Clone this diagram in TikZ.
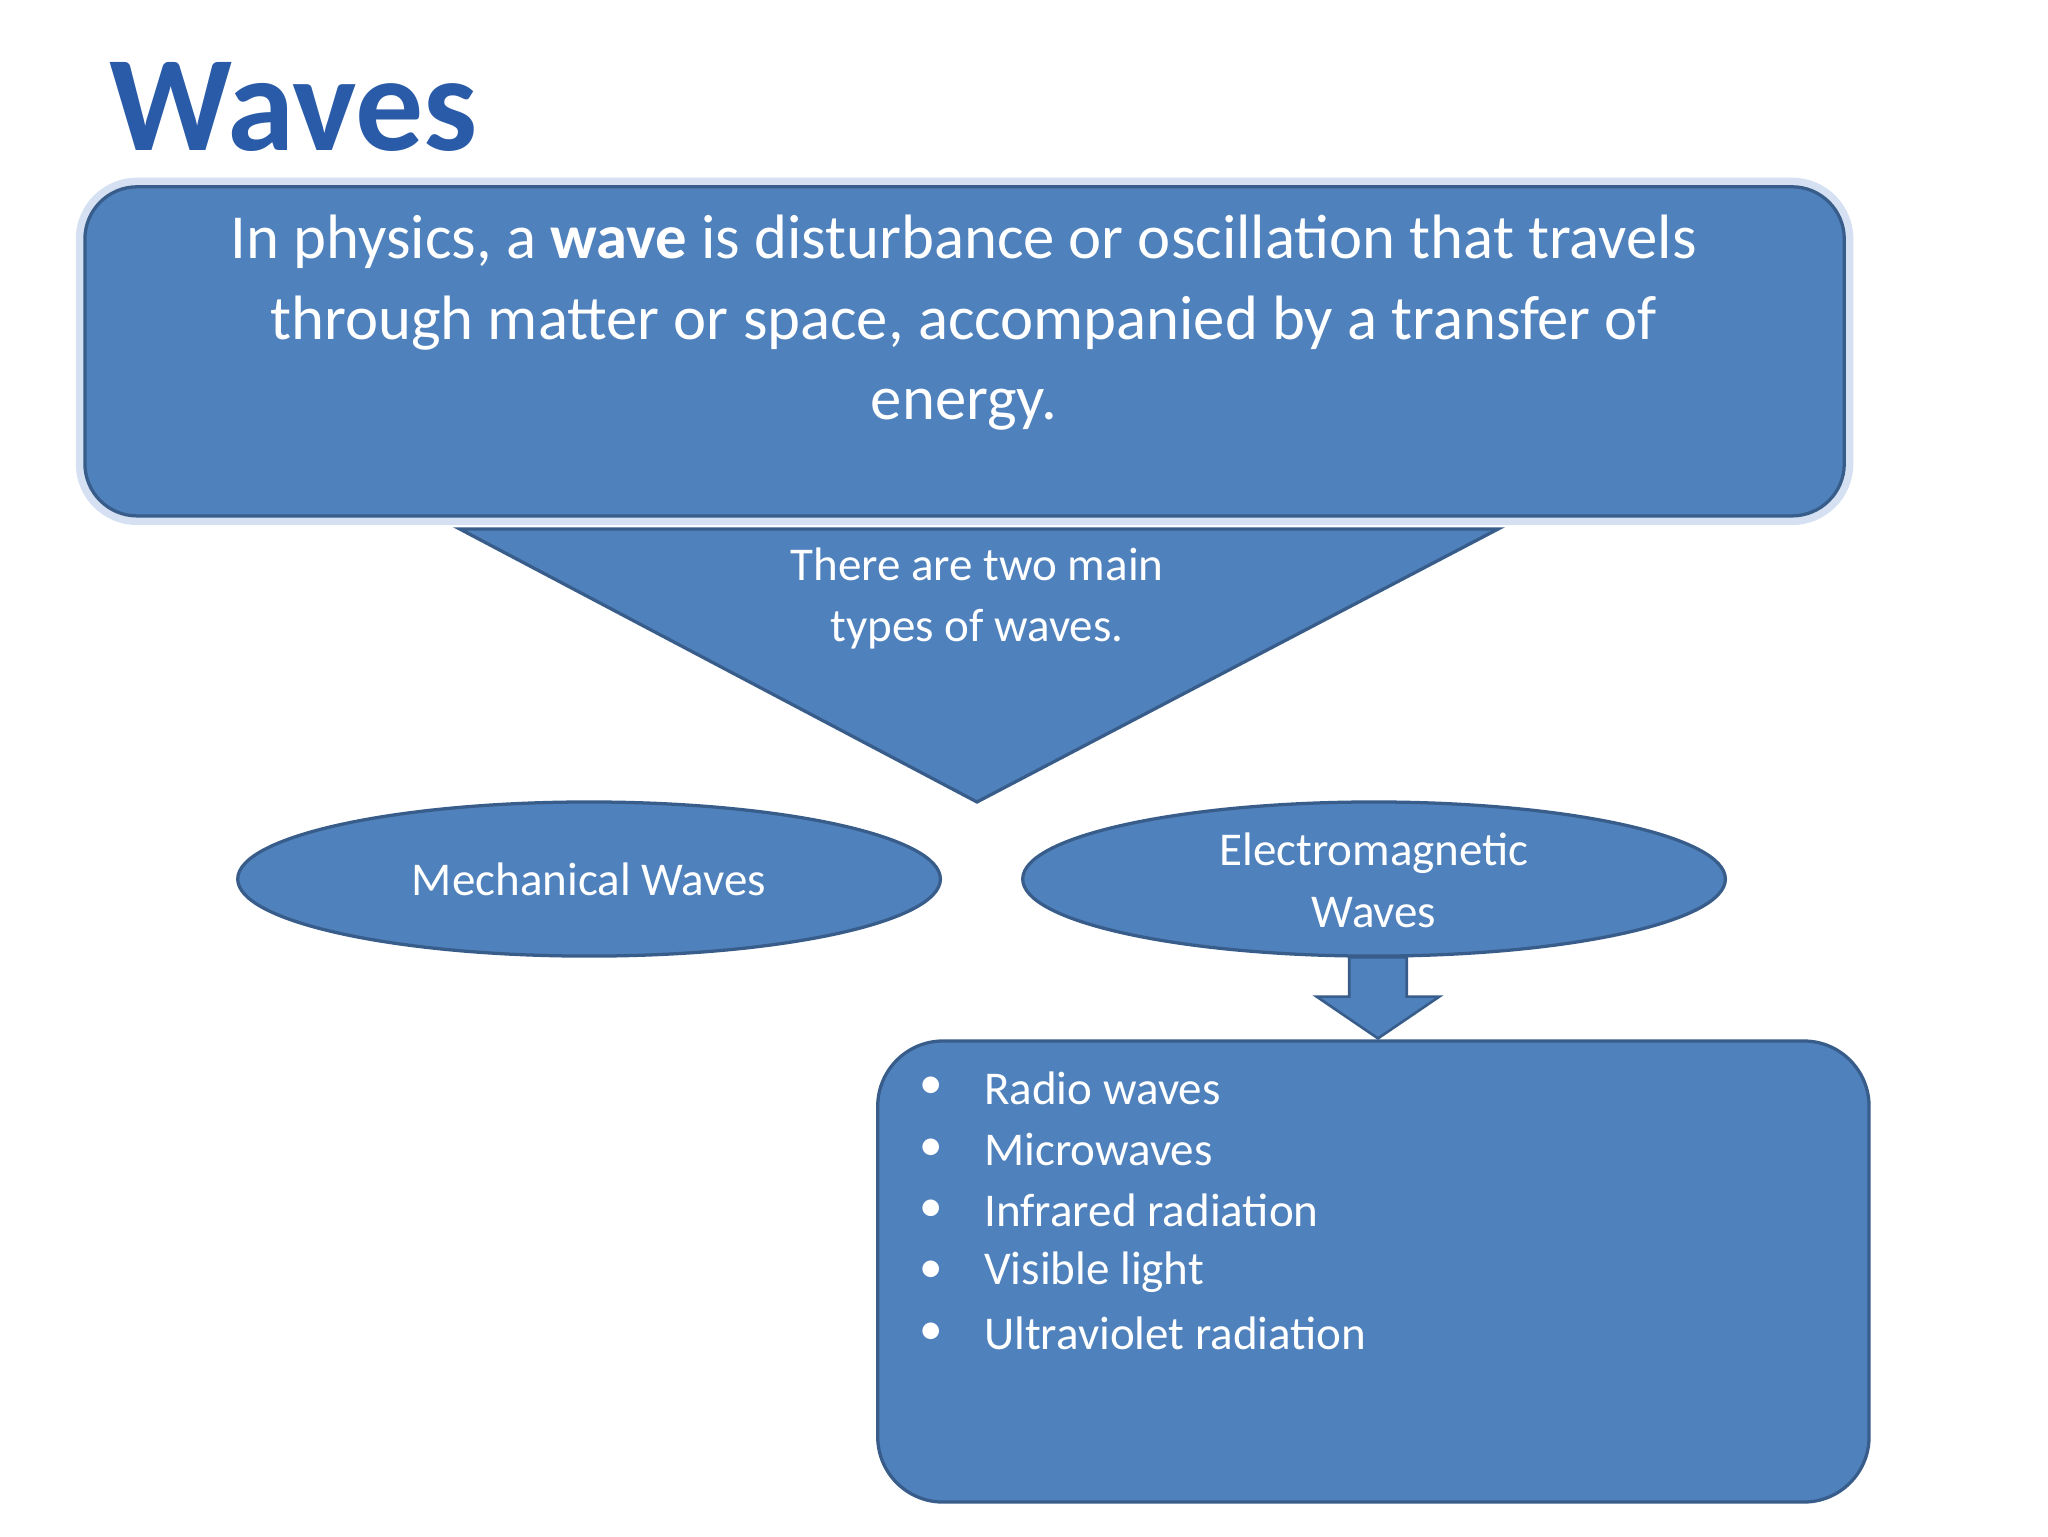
\documentclass[tikz,border=0pt]{standalone}
\usepackage{fontspec}
\setmainfont{Carlito}
\usetikzlibrary{shapes.geometric,shapes.arrows}
\definecolor{fillb}{HTML}{4F81BD}
\definecolor{edgeb}{HTML}{385D8A}
\definecolor{titleb}{HTML}{2A5BA8}
\definecolor{glowb}{HTML}{B9CDEB}
\tikzset{
  shp/.style={fill=fillb,draw=edgeb,line width=2.5pt},
  wt/.style={text=white,align=center,font=\fontsize{36}{47}\selectfont},
}
\begin{document}
\begin{tikzpicture}[x=1pt,y=-1pt]
\useasboundingbox (0,0) rectangle (1568,1176);
\fill[white] (0,0) rectangle (1568,1176);
% title
\node[anchor=west,text=titleb,font=\fontsize{104}{110}\bfseries\selectfont,draw=none] (title) at (80,82) {Waves};
% main box with glow
\draw[glowb,line width=14pt,rounded corners=40pt,opacity=0.6] (65,143) rectangle (1412,395);
\draw[shp,rounded corners=40pt] (65,143) rectangle (1412,395);
\node[wt,font=\fontsize{48}{62}\selectfont] (main) at (738,247) {In physics, a \textbf{wave} is disturbance or oscillation that travels\\through matter or space, accompanied by a transfer of\\energy.};
% triangle
\draw[shp] (352,405) -- (1147,405) -- (748,614) -- cycle;
\node[wt] (tri) at (748,458) {There are two main\\types of waves.};
% ellipses
\draw[shp] (451,673) ellipse [x radius=269,y radius=59];
\node[wt] (mech) at (451,673) {Mechanical Waves};
\draw[shp] (1052,673) ellipse [x radius=269,y radius=59];
\node[wt] (em) at (1052,674) {Electromagnetic\\Waves};
% block arrow
\draw[shp,line width=2pt] (1033,733) -- (1077,733) -- (1077,763) -- (1102,763) -- (1055,795) -- (1008,763) -- (1033,763) -- cycle;
% bottom box
\draw[shp,rounded corners=50pt] (672,797) rectangle (1431,1150);
\foreach \t [count=\i] in {Radio waves,Microwaves,Infrared radiation,Visible light,Ultraviolet radiation}{
  \node[text=white,font=\fontsize{36}{40}\selectfont] (b\i) at (713,833+47*\i-47) {•};
  \node[anchor=west,text=white,font=\fontsize{36}{40}\selectfont] (l\i) at (750,833+47*\i-47) {\t};
}
\end{tikzpicture}
\end{document}
